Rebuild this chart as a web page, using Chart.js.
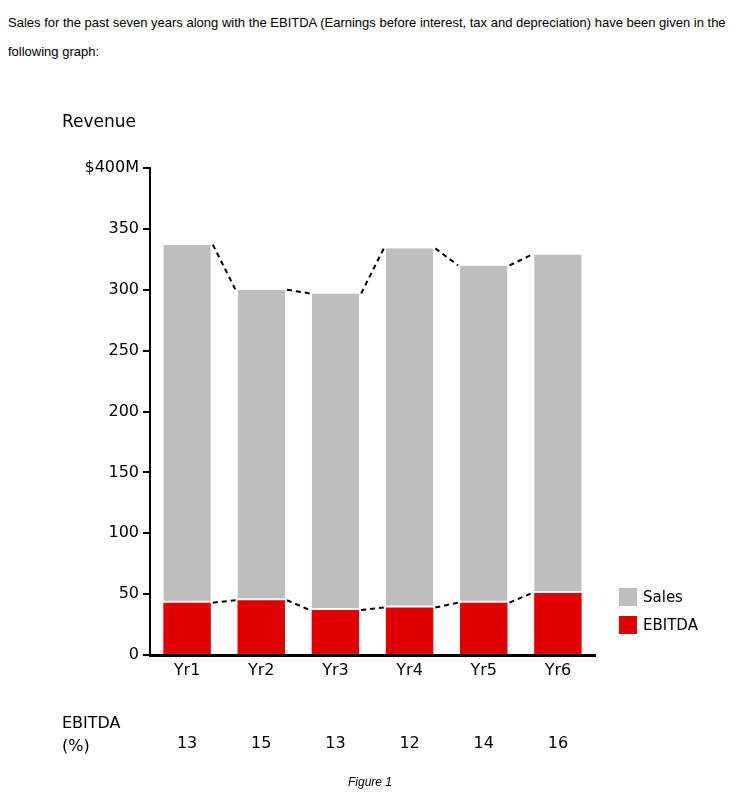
<!DOCTYPE html>
<html><head><meta charset="utf-8">
<script src="https://cdn.jsdelivr.net/npm/chart.js@4"></script>
<style>
html,body{margin:0;padding:0;background:#fff;width:741px;height:795px;overflow:hidden}
#hdr{position:absolute;left:8px;top:8px;width:730px;font:13px "Liberation Sans",Arial,sans-serif;line-height:29px;color:#000}
#wrap{position:absolute;left:0;top:0;width:741px;height:795px}
</style></head><body>
<div id="hdr">Sales for the past seven years along with the EBITDA (Earnings before interest, tax and depreciation) have been given in the following graph:</div>
<div id="wrap"><canvas id="c"></canvas></div>
<script>
const categories = ["Yr1","Yr2","Yr3","Yr4","Yr5","Yr6"];
const salesTotal = [337, 300, 297, 334, 320, 329];
const ebitda = [43, 45, 37, 39, 43, 51];
const ebitdaPct = ["13","15","13","12","14","16"];
const salesRest = salesTotal.map((v,i)=>v-ebitda[i]);
const FONT = '"DejaVu Sans", Verdana, sans-serif';

const extras = {
  id:'extras',
  afterDatasetsDraw(chart){
    const ctx = chart.ctx, x = chart.scales.x, y = chart.scales.y;
    const bars = chart.getDatasetMeta(0).data;
    ctx.save();
    ctx.strokeStyle='#000'; ctx.lineWidth=2; ctx.setLineDash([5,4]);
    [salesTotal, ebitda].forEach(arr=>{
      for(let i=0;i<arr.length-1;i++){
        const b0=bars[i], b1=bars[i+1];
        ctx.beginPath();
        ctx.moveTo(b0.x+b0.width/2+2, y.getPixelForValue(arr[i]));
        ctx.lineTo(b1.x-b1.width/2-2, y.getPixelForValue(arr[i+1]));
        ctx.stroke();
      }
    });
    ctx.setLineDash([]);
    ctx.fillStyle='#000';
    ctx.font='17px '+FONT; ctx.textBaseline='middle'; ctx.textAlign='left';
    ctx.fillText('Revenue', 62, 123);
    ctx.font='16px '+FONT;
    ctx.fillText('EBITDA', 62, 724);
    ctx.fillText('(%)', 62, 747);
    ctx.textAlign='center';
    ebitdaPct.forEach((t,i)=>ctx.fillText(t, x.getPixelForValue(i), 744));
    ctx.font='italic 12px "Liberation Sans", Arial, sans-serif';
    ctx.fillText('Figure 1', 370, 783);
    // legend
    ctx.textAlign='left'; ctx.font='15px '+FONT;
    ctx.fillStyle='#bebebe'; ctx.fillRect(619,588,18,18);
    ctx.fillStyle='#e00000'; ctx.fillRect(619,616,18,18);
    ctx.fillStyle='#000';
    ctx.fillText('Sales', 643, 598);
    ctx.fillText('EBITDA', 643, 626);
    ctx.restore();
  }
};

new Chart(document.getElementById('c'), {
  type:'bar',
  data:{labels:categories, datasets:[
    {label:'EBITDA', data:ebitda, backgroundColor:'#e00000', borderWidth:0, stack:'s'},
    {label:'Sales', data:salesRest, backgroundColor:'#bebebe', borderColor:'#fff',
     borderWidth:{top:0,left:0,right:0,bottom:2}, borderSkipped:false, stack:'s'}
  ]},
  options:{
    responsive:true, maintainAspectRatio:false, animation:false,
    categoryPercentage:0.64, barPercentage:1,
    layout:{padding:{left:0,right:146,top:168,bottom:100}},
    plugins:{legend:{display:false}, tooltip:{enabled:false}},
    scales:{
      x:{stacked:true, grid:{display:false, drawTicks:false}, border:{color:'#000',width:3},
         ticks:{color:'#000', font:{family:FONT,size:16}, padding:6},
         afterFit(s){s.height=40;}},
      y:{stacked:true, min:0, max:400, border:{color:'#000',width:2},
         grid:{drawOnChartArea:false, tickLength:7, color:'#000', lineWidth:2},
         ticks:{stepSize:50, color:'#000', font:{family:FONT,size:16}, padding:4,
           callback:v=>v===400?'$400M':v},
         afterFit(s){s.width=150;}}
    }
  },
  plugins:[extras]
});
</script>
</body></html>
